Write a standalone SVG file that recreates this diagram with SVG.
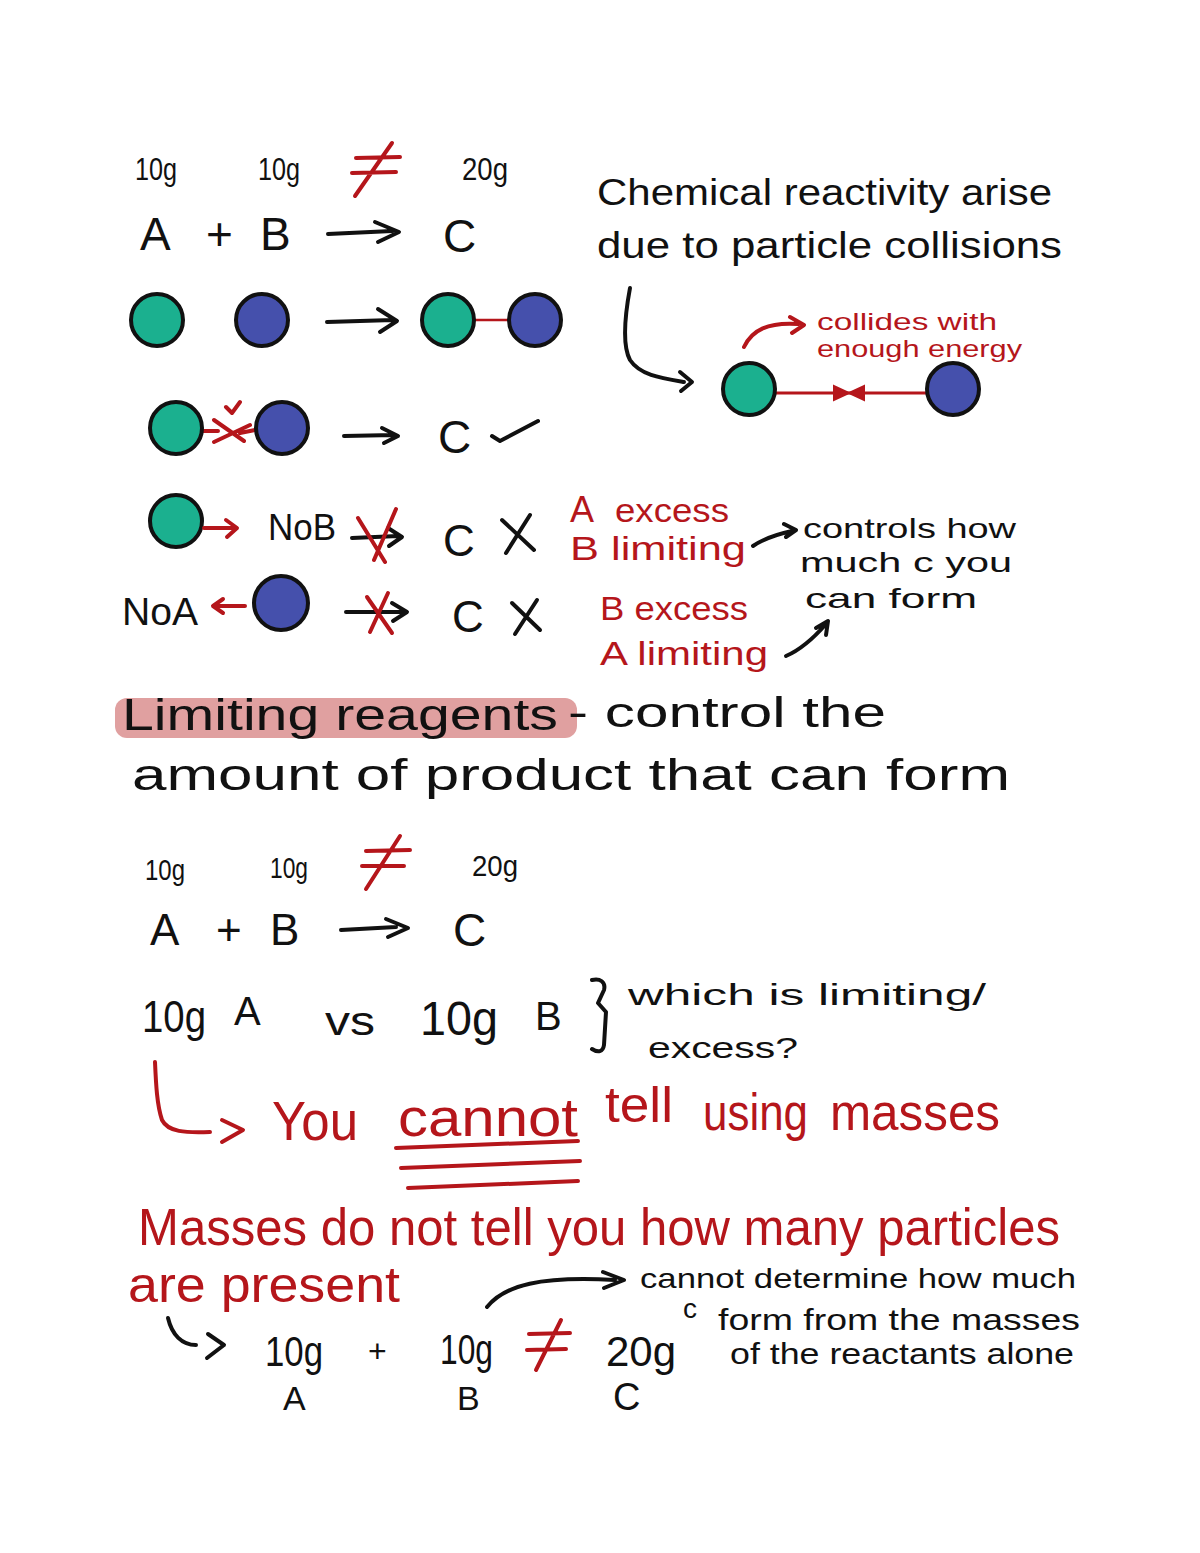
<svg xmlns="http://www.w3.org/2000/svg" width="1200" height="1553" viewBox="0 0 1200 1553">
<style>
  .k{fill:#111;font-family:"Liberation Sans","DejaVu Sans",sans-serif}
  .r{fill:#b5161b;font-family:"Liberation Sans","DejaVu Sans",sans-serif}
  .ln{fill:none;stroke:#111;stroke-width:4;stroke-linecap:round;stroke-linejoin:round}
  .rl{fill:none;stroke:#b5161b;stroke-width:4;stroke-linecap:round;stroke-linejoin:round}
  .ga{fill:#1bb08f;stroke:#111;stroke-width:4}
  .bb{fill:#4550ac;stroke:#111;stroke-width:4}
</style>
<rect width="1200" height="1553" fill="#ffffff"/>

<!-- Top equation -->
<g id="eq1">
  <text class="k" x="135" y="180" font-size="32" textLength="42" lengthAdjust="spacingAndGlyphs">10g</text>
  <text class="k" x="258" y="180" font-size="32" textLength="42" lengthAdjust="spacingAndGlyphs">10g</text>
  <path class="rl" d="M356,158 L400,157 M352,173 L396,172 M392,143 L355,196"/>
  <text class="k" x="462" y="180" font-size="32" textLength="46" lengthAdjust="spacingAndGlyphs">20g</text>
  <text class="k" x="140" y="250" font-size="46">A</text>
  <text class="k" x="206" y="250" font-size="46">+</text>
  <text class="k" x="260" y="250" font-size="46">B</text>
  <path class="ln" d="M328,234 L392,231 M375,222 L399,232 L378,242"/>
  <text class="k" x="443" y="252" font-size="46">C</text>
</g>

<!-- Particles row 1 -->
<g id="row1">
  <circle class="ga" cx="157" cy="320" r="26"/>
  <circle class="bb" cx="262" cy="320" r="26"/>
  <path class="ln" d="M327,322 L393,320 M378,309 L397,321 L380,332"/>
  <line x1="474" y1="320" x2="510" y2="320" stroke="#b5161b" stroke-width="2.5"/>
  <circle class="ga" cx="448" cy="320" r="26"/>
  <circle class="bb" cx="535" cy="320" r="26"/>
</g>

<!-- Particles row 2 -->
<g id="row2">
  <path class="rl" d="M203,431 L218,431 M214,420 L244,441 M214,442 L250,425 M226,407 L232,413 L240,402 M240,433 L255,430" stroke-width="3.5"/>
  <circle class="ga" cx="176" cy="428" r="26"/>
  <circle class="bb" cx="282" cy="428" r="26"/>
  <path class="ln" d="M344,436 L394,435 M382,428 L398,436 L384,443"/>
  <text class="k" x="438" y="453" font-size="46">C</text>
  <path class="ln" d="M492,436 L500,441 L538,421"/>
</g>

<!-- Collision explanation -->
<g id="collision">
  <text class="k" x="597" y="205" font-size="36" textLength="455" lengthAdjust="spacingAndGlyphs">Chemical reactivity arise</text>
  <text class="k" x="597" y="258" font-size="36" textLength="465" lengthAdjust="spacingAndGlyphs">due to particle collisions</text>
  <path class="ln" d="M630,288 C625,315 622,345 630,360 C640,375 660,378 684,382 M680,372 L692,382 L681,391"/>
  <path class="rl" d="M744,347 C752,330 768,322 798,324 M790,317 L804,325 L792,333" stroke-width="3"/>
  <text class="r" x="817" y="330" font-size="24" textLength="180" lengthAdjust="spacingAndGlyphs">collides with</text>
  <text class="r" x="817" y="357" font-size="24" textLength="205" lengthAdjust="spacingAndGlyphs">enough energy</text>
  <line x1="776" y1="393" x2="926" y2="393" stroke="#b5161b" stroke-width="3"/>
  <path d="M834,386 L834,400 L849,393 Z M864,386 L864,400 L849,393 Z" fill="#b5161b" stroke="#b5161b" stroke-width="2"/>
  <circle class="ga" cx="749" cy="389" r="26"/>
  <circle class="bb" cx="953" cy="389" r="26"/>
</g>

<!-- Row 4: A only -->
<g id="row4">
  <circle class="ga" cx="176" cy="521" r="26"/>
  <path class="rl" d="M204,528 L233,528 M226,520 L237,528 L227,537" stroke-width="3"/>
  <text class="k" x="268" y="540" font-size="36" textLength="68" lengthAdjust="spacingAndGlyphs">NoB</text>
  <path class="ln" d="M352,538 L398,536 M388,528 L402,537 L389,546"/>
  <path class="rl" d="M358,518 L385,562 M396,509 L374,560" stroke-width="3"/>
  <text class="k" x="443" y="556" font-size="44">C</text>
  <path class="ln" d="M502,520 L534,550 M530,515 L506,553" stroke-width="3.5"/>
  <text class="r" x="570" y="522" font-size="36">A</text>
  <text class="r" x="615" y="522" font-size="34" textLength="114" lengthAdjust="spacingAndGlyphs">excess</text>
  <text class="r" x="570" y="560" font-size="34" textLength="176" lengthAdjust="spacingAndGlyphs">B limiting</text>
</g>

<!-- Row 5: B only -->
<g id="row5">
  <text class="k" x="122" y="625" font-size="38" textLength="76" lengthAdjust="spacingAndGlyphs">NoA</text>
  <path class="rl" d="M216,606 L245,606 M223,599 L213,606 L223,613" stroke-width="3"/>
  <circle class="bb" cx="281" cy="603" r="27"/>
  <path class="ln" d="M346,612 L402,612 M392,603 L407,612 L393,621"/>
  <path class="rl" d="M367,597 L392,633 M388,593 L370,632" stroke-width="3"/>
  <text class="k" x="452" y="632" font-size="44">C</text>
  <path class="ln" d="M512,603 L540,630 M537,600 L515,634" stroke-width="3.5"/>
  <text class="r" x="600" y="620" font-size="34" textLength="148" lengthAdjust="spacingAndGlyphs">B excess</text>
  <text class="r" x="600" y="665" font-size="34" textLength="168" lengthAdjust="spacingAndGlyphs">A limiting</text>
</g>

<!-- controls note -->
<g id="controls">
  <path class="ln" d="M753,546 C765,538 778,534 792,531 M784,524 L796,530 L786,537" stroke-width="3"/>
  <text class="k" x="803" y="538" font-size="28" textLength="213" lengthAdjust="spacingAndGlyphs">controls how</text>
  <text class="k" x="800" y="572" font-size="28" textLength="212" lengthAdjust="spacingAndGlyphs">much c you</text>
  <text class="k" x="805" y="608" font-size="28" textLength="172" lengthAdjust="spacingAndGlyphs">can form</text>
  <path class="ln" d="M786,656 C800,650 812,640 826,624 M816,628 L828,621 L826,635" stroke-width="3"/>
</g>

<!-- Definition -->
<g id="definition">
  <rect x="115" y="698" width="462" height="40" rx="12" fill="#e0a0a0"/>
  <text class="k" x="122" y="730" font-size="44" textLength="436" lengthAdjust="spacingAndGlyphs">Limiting reagents</text>
  <text class="k" x="568" y="727" font-size="42" textLength="318" lengthAdjust="spacingAndGlyphs">- control the</text>
  <text class="k" x="132" y="790" font-size="44" textLength="878" lengthAdjust="spacingAndGlyphs">amount of product that can form</text>
</g>

<!-- Second equation -->
<g id="eq2">
  <text class="k" x="145" y="880" font-size="30" textLength="40" lengthAdjust="spacingAndGlyphs">10g</text>
  <text class="k" x="270" y="878" font-size="30" textLength="38" lengthAdjust="spacingAndGlyphs">10g</text>
  <path class="rl" d="M366,851 L410,850 M362,866 L404,866 M400,836 L366,889"/>
  <text class="k" x="472" y="876" font-size="30" textLength="46" lengthAdjust="spacingAndGlyphs">20g</text>
  <text class="k" x="150" y="945" font-size="44">A</text>
  <text class="k" x="216" y="945" font-size="44">+</text>
  <text class="k" x="270" y="945" font-size="44">B</text>
  <path class="ln" d="M341,930 L396,927 M386,919 L408,928 L388,937"/>
  <text class="k" x="453" y="946" font-size="46">C</text>
</g>

<!-- Question -->
<g id="question">
  <text class="k" x="142" y="1032" font-size="44" textLength="64" lengthAdjust="spacingAndGlyphs">10g</text>
  <text class="k" x="234" y="1025" font-size="40">A</text>
  <text class="k" x="325" y="1035" font-size="40" textLength="50" lengthAdjust="spacingAndGlyphs">vs</text>
  <text class="k" x="420" y="1035" font-size="48" textLength="78" lengthAdjust="spacingAndGlyphs">10g</text>
  <text class="k" x="535" y="1030" font-size="40">B</text>
  <path class="ln" d="M592,980 C600,978 606,982 604,990 L598,1003 L606,1012 L604,1045 C603,1052 598,1053 592,1049" stroke-width="3"/>
  <text class="k" x="628" y="1005" font-size="30" textLength="358" lengthAdjust="spacingAndGlyphs">which is limiting/</text>
  <text class="k" x="648" y="1058" font-size="30" textLength="150" lengthAdjust="spacingAndGlyphs">excess?</text>
</g>

<!-- Answer -->
<g id="answer">
  <path class="rl" d="M155,1062 C156,1085 157,1105 162,1120 C168,1132 185,1133 210,1132 M222,1120 L243,1130 L222,1142"/>
  <text class="r" x="272" y="1140" font-size="56" textLength="86" lengthAdjust="spacingAndGlyphs">You</text>
  <text class="r" x="398" y="1136" font-size="54" textLength="180" lengthAdjust="spacingAndGlyphs">cannot</text>
  <text class="r" x="605" y="1122" font-size="50" textLength="68" lengthAdjust="spacingAndGlyphs">tell</text>
  <text class="r" x="703" y="1130" font-size="52" textLength="105" lengthAdjust="spacingAndGlyphs">using</text>
  <text class="r" x="830" y="1130" font-size="52" textLength="170" lengthAdjust="spacingAndGlyphs">masses</text>
  <path class="rl" d="M396,1148 L578,1141 M401,1168 L580,1161 M408,1188 L578,1181" stroke-width="5"/>
</g>

<!-- Masses statement -->
<g id="masses">
  <text class="r" x="138" y="1245" font-size="52" textLength="922" lengthAdjust="spacingAndGlyphs">Masses do not tell you how many particles</text>
  <text class="r" x="128" y="1302" font-size="50" textLength="272" lengthAdjust="spacingAndGlyphs">are present</text>
</g>

<!-- Final equation -->
<g id="eq3">
  <path class="ln" d="M168,1318 C172,1335 182,1345 196,1345 M208,1334 L224,1345 L207,1358" stroke-width="3.5"/>
  <text class="k" x="265" y="1366" font-size="42" textLength="58" lengthAdjust="spacingAndGlyphs">10g</text>
  <text class="k" x="368" y="1362" font-size="32">+</text>
  <text class="k" x="440" y="1364" font-size="42" textLength="53" lengthAdjust="spacingAndGlyphs">10g</text>
  <path class="rl" d="M529,1334 L570,1333 M527,1350 L566,1349 M561,1320 L536,1370"/>
  <text class="k" x="606" y="1366" font-size="42" textLength="70" lengthAdjust="spacingAndGlyphs">20g</text>
  <text class="k" x="283" y="1410" font-size="34">A</text>
  <text class="k" x="457" y="1410" font-size="34">B</text>
  <text class="k" x="613" y="1410" font-size="38">C</text>
</g>

<!-- cannot determine note -->
<g id="note">
  <path class="ln" d="M487,1307 C505,1285 540,1276 615,1280 M603,1272 L624,1280 L604,1288" stroke-width="3"/>
  <text class="k" x="640" y="1288" font-size="28" textLength="436" lengthAdjust="spacingAndGlyphs">cannot determine how much</text>
  <text class="k" x="683" y="1318" font-size="28">c</text>
  <text class="k" x="718" y="1330" font-size="30" textLength="362" lengthAdjust="spacingAndGlyphs">form from the masses</text>
  <text class="k" x="730" y="1364" font-size="30" textLength="344" lengthAdjust="spacingAndGlyphs">of the reactants alone</text>
</g>
</svg>
